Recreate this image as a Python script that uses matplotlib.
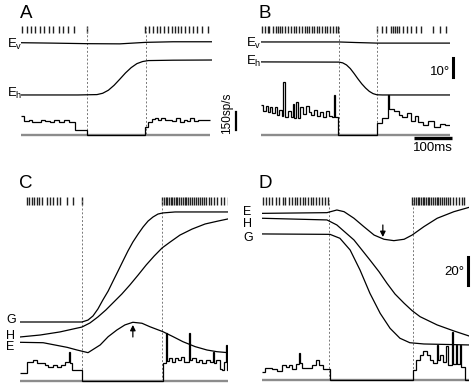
import matplotlib
matplotlib.use('Agg')
import matplotlib.pyplot as plt

plt.rcParams['font.family'] = ['Liberation Sans', 'DejaVu Sans']
plt.rcParams['mathtext.fontset'] = 'custom'
plt.rcParams['mathtext.rm'] = 'Liberation Sans'

# ---------------- DATA ----------------
# Panel A (time in ms, eye position in deg, firing in sp/s)
A_spikes = [3, 16, 26, 37, 50, 61, 74, 84, 100, 110, 124, 139, 174,
            326, 337, 347, 358, 366, 376, 387, 397, 405, 413, 421, 432, 442, 453, 463, 476, 492]
A_sacc = [174, 329]
A_Ev_t = [0, 80, 174, 260, 329, 400, 503]
A_Ev = [51.2, 51.0, 50.7, 50.6, 51.4, 51.7, 51.7]
A_Eh_t = [0, 150, 200, 215, 230, 245, 260, 275, 290, 305, 320, 335, 400, 503]
A_Eh = [23.7, 23.7, 23.9, 24.6, 26.2, 28.8, 32.0, 35.3, 38.1, 40.2, 41.3, 41.8, 42.0, 42.1]
A_fr_edges = [0, 8, 20, 30, 40, 52, 62, 75, 88, 100, 112, 125, 142, 174, 326, 333, 345, 352,
              360, 368, 378, 388, 398, 408, 418, 428, 436, 445, 455, 465, 475, 485, 497]
A_fr = [160, 115, 125, 112, 110, 128, 115, 108, 125, 112, 125, 110, 42, 0, 70, 112, 135, 145,
        125, 138, 122, 128, 118, 140, 112, 125, 115, 138, 120, 128, 122, 125]

# Panel B
B_spikes = [2.6, 10.5, 18.4, 21, 31.6, 39.5, 44.7, 50, 55, 63, 71, 79, 87, 92, 100, 108, 116, 121,
            126, 134, 139, 147, 153, 160.5, 168, 174, 182, 189.5, 197, 203,
            305, 318, 329, 342, 347, 353, 358, 363, 374, 384, 395, 408, 421, 453, 471, 487]
B_sacc = [205, 305]
B_Ev_t = [0, 205, 250, 305, 497]
B_Ev = [51.6, 51.6, 51.3, 51.0, 51.0]
B_Eh_t = [0, 205, 215, 225, 235, 245, 255, 265, 275, 285, 295, 305, 320, 497]
B_Eh = [41.1, 41.0, 40.6, 39.5, 37.6, 35.0, 32.2, 29.6, 27.4, 25.6, 24.4, 23.8, 23.7, 23.7]
B_fr_edges = [0, 5, 12, 18, 24, 30, 36, 42, 48, 56, 59, 62, 70, 78, 84, 88, 92, 98, 102, 110,
              118, 126, 132, 140, 148, 156, 164, 172, 180, 188, 191, 194, 203, 305, 318, 330,
              333, 336, 350, 362, 372, 384, 394, 404, 414, 426, 440, 456, 470, 485, 497]
B_fr = [250, 200, 240, 190, 235, 180, 230, 170, 210, 160, 444, 150, 200, 150, 260, 140, 275,
        140, 230, 175, 240, 190, 170, 210, 160, 190, 150, 200, 160, 150, 333, 150, 0, 100,
        140, 140, 333, 220, 200, 170, 150, 180, 120, 160, 110, 85, 120, 70, 90, 80]

# Panel C
C_spikes = [18, 24, 32, 37, 45, 50, 58, 71, 79, 87, 97, 105, 124, 139, 163,
            374, 379, 384, 387, 392, 397, 400, 405, 411, 413, 418, 424, 429, 434, 437, 442,
            447, 453, 458, 463, 468, 474, 479, 484, 489, 497, 503, 511, 518, 529, 537, 547]
C_sacc = [163, 374]
C_G_t = [0, 163, 179, 192, 205, 218, 232, 245, 258, 271, 284, 297, 311, 324, 337, 350, 363,
         376, 408, 474, 547]
C_G = [45.0, 45.0, 46.4, 49.3, 54.3, 60.7, 67.1, 74.3, 81.4, 88.6, 95.7, 102.1, 107.9, 112.9,
       117.1, 120.0, 122.1, 122.9, 123.6, 123.6, 123.6]
C_H_t = [0, 53, 105, 163, 184, 205, 226, 247, 268, 289, 311, 332, 353, 374, 395, 421, 453,
         487, 521, 547]
C_H = [34.3, 35.7, 37.9, 41.4, 44.3, 48.6, 53.6, 59.3, 65.0, 71.4, 78.6, 85.7, 92.1, 97.9,
       102.1, 107.1, 111.4, 115.0, 117.1, 118.6]
C_E_t = [0, 61, 124, 150, 179, 211, 232, 255, 276, 297, 321, 342, 376, 403, 429, 461, 492,
         518, 547]
C_E = [30.5, 30.2, 26.9, 25.0, 23.1, 28.6, 34.5, 39.3, 42.9, 44.8, 44.1, 41.6, 38.1, 34.5,
       30.9, 27.4, 25.0, 23.8, 23.1]
C_fr_edges = [0, 18, 34, 45, 66, 74, 87, 97, 108, 118, 129, 132, 137, 163, 376, 384, 387, 392,
              400, 408, 416, 424, 432, 445, 447, 453, 463, 471, 479, 489, 500, 508, 511, 516,
              526, 532, 537, 542, 545, 547]
C_fr = [64, 161, 175, 147, 133, 119, 133, 119, 133, 161, 244, 150, 92, 0, 147, 397, 170, 189,
        161, 189, 175, 200, 161, 397, 175, 189, 161, 175, 150, 175, 161, 244, 150, 175, 100,
        92, 161, 300, 92]
C_arrow = (297, 34.3, 42.9)

# Panel D
D_spikes = [3, 11, 18, 26, 37, 45, 55, 61, 71, 79, 87, 92, 100, 108, 113, 121, 129, 134, 142,
            150, 158, 166, 174,
            395, 400, 405, 411, 413, 418, 424, 426, 432, 437, 440, 445, 450, 455, 461, 463,
            468, 474, 479, 484, 490, 495, 503, 511, 518, 526, 532]
D_sacc = [176, 397]
D_E_t = [0, 171, 197, 216, 242, 268, 295, 321, 347, 374, 395, 426, 461, 505, 545]
D_E = [122.6, 123.1, 125.0, 123.8, 119.1, 113.1, 107.1, 104.1, 103.1, 104.1, 107.1, 113.1,
       119.1, 123.8, 126.9]
D_H_t = [0, 171, 197, 242, 284, 308, 329, 350, 374, 395, 416, 461, 505, 545]
D_H = [119.1, 117.9, 114.3, 103.6, 89.3, 80.9, 72.6, 65.0, 58.4, 53.1, 48.8, 42.9, 38.6, 35.0]
D_G_t = [0, 179, 205, 232, 258, 284, 311, 337, 363, 389, 426, 545]
D_G = [107.9, 107.6, 104.8, 96.4, 82.1, 65.5, 51.2, 40.5, 33.4, 30.2, 29.3, 28.6]
D_fr_edges = [0, 8, 26, 39, 53, 63, 71, 79, 89, 97, 100, 105, 118, 132, 142, 150, 161, 179,
              397, 405, 416, 424, 434, 442, 450, 461, 463, 468, 476, 484, 490, 500, 503, 511,
              513, 521, 524, 534, 545]
D_fr = [69, 100, 90, 72, 125, 110, 125, 95, 135, 222, 140, 100, 100, 125, 170, 125, 90, 0,
        85, 170, 210, 240, 205, 165, 140, 290, 165, 205, 150, 280, 125, 400, 130, 290, 130,
        290, 110, 0]
D_arrow = (318, 114.3, 105.7)

# scale bars
scale_deg_top = 10
scale_deg_bottom = 20
scale_ms = 100
scale_rate = 150

# ---------------- FIGURE ----------------
W, H = 474, 384
fig = plt.figure(figsize=(W / 100, H / 100), dpi=100)

TOP_MS_PX = 0.38
TOP_DEG_PX = 1.9
BOT_DEG_PX = 1.4
RATE_PX = 0.12


def make_axes(L, R, T, B, deg_px, base_py):
    rect = [L / W, 1 - B / H, (R - L) / W, (B - T) / H]
    ax = fig.add_axes(rect)
    ax.set_xlim(0, (R - L) / TOP_MS_PX)
    ax.set_ylim(0, (B - T) / deg_px)
    ax.axis('off')
    axf = fig.add_axes(rect)
    axf.set_xlim(0, (R - L) / TOP_MS_PX)
    axf.set_ylim((base_py - B) / RATE_PX, (base_py - T) / RATE_PX)
    axf.axis('off')
    axf.patch.set_visible(False)
    return ax, axf


LW = 0.9
DASH = dict(colors='#777777', linestyles=(0, (2, 2)), lw=0.7)
RAST = dict(colors='#222222', lw=1.0)


def firing(axf, edges, vals):
    axf.plot([edges[0], edges[-1]], [0, 0], color='#8c8c8c', lw=1.7, zorder=1,
             solid_capstyle='butt')
    axf.stairs(vals, edges, color='black', lw=LW, baseline=None, zorder=2)


# Panel A
axA, afA = make_axes(21, 212, 20, 140, TOP_DEG_PX, 135)
axA.vlines(A_spikes, 56.3, 59.9, **RAST)
axA.vlines(A_sacc, 3.4, 59.5, **DASH)
axA.plot(A_Ev_t, A_Ev, color='black', lw=LW)
axA.plot(A_Eh_t, A_Eh, color='black', lw=LW)
firing(afA, A_fr_edges, A_fr)
afA.plot([566, 566], [42, 42 + scale_rate], color='black', lw=1.6, clip_on=False)
afA.text(542, 183, f'{scale_rate}sp/s', rotation=90, ha='center',
         va='center', fontsize=8.5, clip_on=False)

# Panel B
axB, afB = make_axes(261, 450, 20, 140, TOP_DEG_PX, 135)
axB.vlines(B_spikes, 56.3, 59.9, **RAST)
axB.vlines(B_sacc, 3.4, 59.5, **DASH)
axB.plot(B_Ev_t, B_Ev, color='black', lw=LW)
axB.plot(B_Eh_t, B_Eh, color='black', lw=LW)
firing(afB, B_fr_edges, B_fr)
axB.plot([505, 505], [33.2, 33.2 + scale_deg_top], color='black', lw=2.2, clip_on=False)
axB.text(497, 36.0, f'{scale_deg_top}°', ha='right', va='center', fontsize=9.5, clip_on=False)
axB.plot([503 - scale_ms, 503], [1.05, 1.05], color='black', lw=2.4, clip_on=False,
         solid_capstyle='butt')
axB.text(453, -1.2, f'{scale_ms}ms', ha='center', va='top', fontsize=9.5, clip_on=False)

# Panel C
axC, afC = make_axes(20, 228, 190, 385, BOT_DEG_PX, 381)
axC.vlines(C_spikes, 128.6, 134.3, **RAST)
axC.vlines(C_sacc, 2.9, 132.1, **DASH)
axC.plot(C_G_t, C_G, color='black', lw=LW)
axC.plot(C_H_t, C_H, color='black', lw=LW)
axC.plot(C_E_t, C_E, color='black', lw=LW)
firing(afC, C_fr_edges, C_fr)
axC.annotate('', xy=(C_arrow[0], C_arrow[2]), xytext=(C_arrow[0], C_arrow[1]),
             arrowprops=dict(arrowstyle='-|>', lw=0.9, color='black', mutation_scale=8,
                             shrinkA=0, shrinkB=0))

# Panel D
axD, afD = make_axes(262, 469, 190, 385, BOT_DEG_PX, 380)
axD.vlines(D_spikes, 128.6, 134.3, **RAST)
axD.vlines(D_sacc, 3.6, 132.1, **DASH)
axD.plot(D_E_t, D_E, color='black', lw=LW)
axD.plot(D_H_t, D_H, color='black', lw=LW)
axD.plot(D_G_t, D_G, color='black', lw=LW)
firing(afD, D_fr_edges, D_fr)
axD.annotate('', xy=(D_arrow[0], D_arrow[2]), xytext=(D_arrow[0], D_arrow[1]),
             arrowprops=dict(arrowstyle='-|>', lw=0.9, color='black', mutation_scale=8,
                             shrinkA=0, shrinkB=0))
axD.plot([542, 542], [71.4, 71.4 + scale_deg_bottom], color='black', lw=2.2, clip_on=False)
axD.text(532, 80.7, f'{scale_deg_bottom}°', ha='right', va='center', fontsize=9.5,
         clip_on=False)


# ---------------- LABELS ----------------
def ftext(px, py, s, **kw):
    fig.text(px / W, 1 - py / H, s, **kw)


for lab, px, py in [('A', 20, 18), ('B', 259, 18), ('C', 19, 188), ('D', 258, 188)]:
    ftext(px, py, lab, fontsize=13.5, ha='left', va='baseline')

for lab, px, py in [(r'E$_{\rm v}$', 7, 48), (r'E$_{\rm h}$', 7, 97),
                    (r'E$_{\rm v}$', 246, 47), (r'E$_{\rm h}$', 246, 65)]:
    ftext(px, py, lab, fontsize=9.5, ha='left', va='baseline')

for lab, px, py in [('G', 6, 323), ('H', 6, 339), ('E', 6, 350),
                    ('E', 243, 215), ('H', 243, 227), ('G', 243, 241)]:
    ftext(px, py, lab, fontsize=9, ha='left', va='baseline')

fig.savefig('out.png', dpi=100)
